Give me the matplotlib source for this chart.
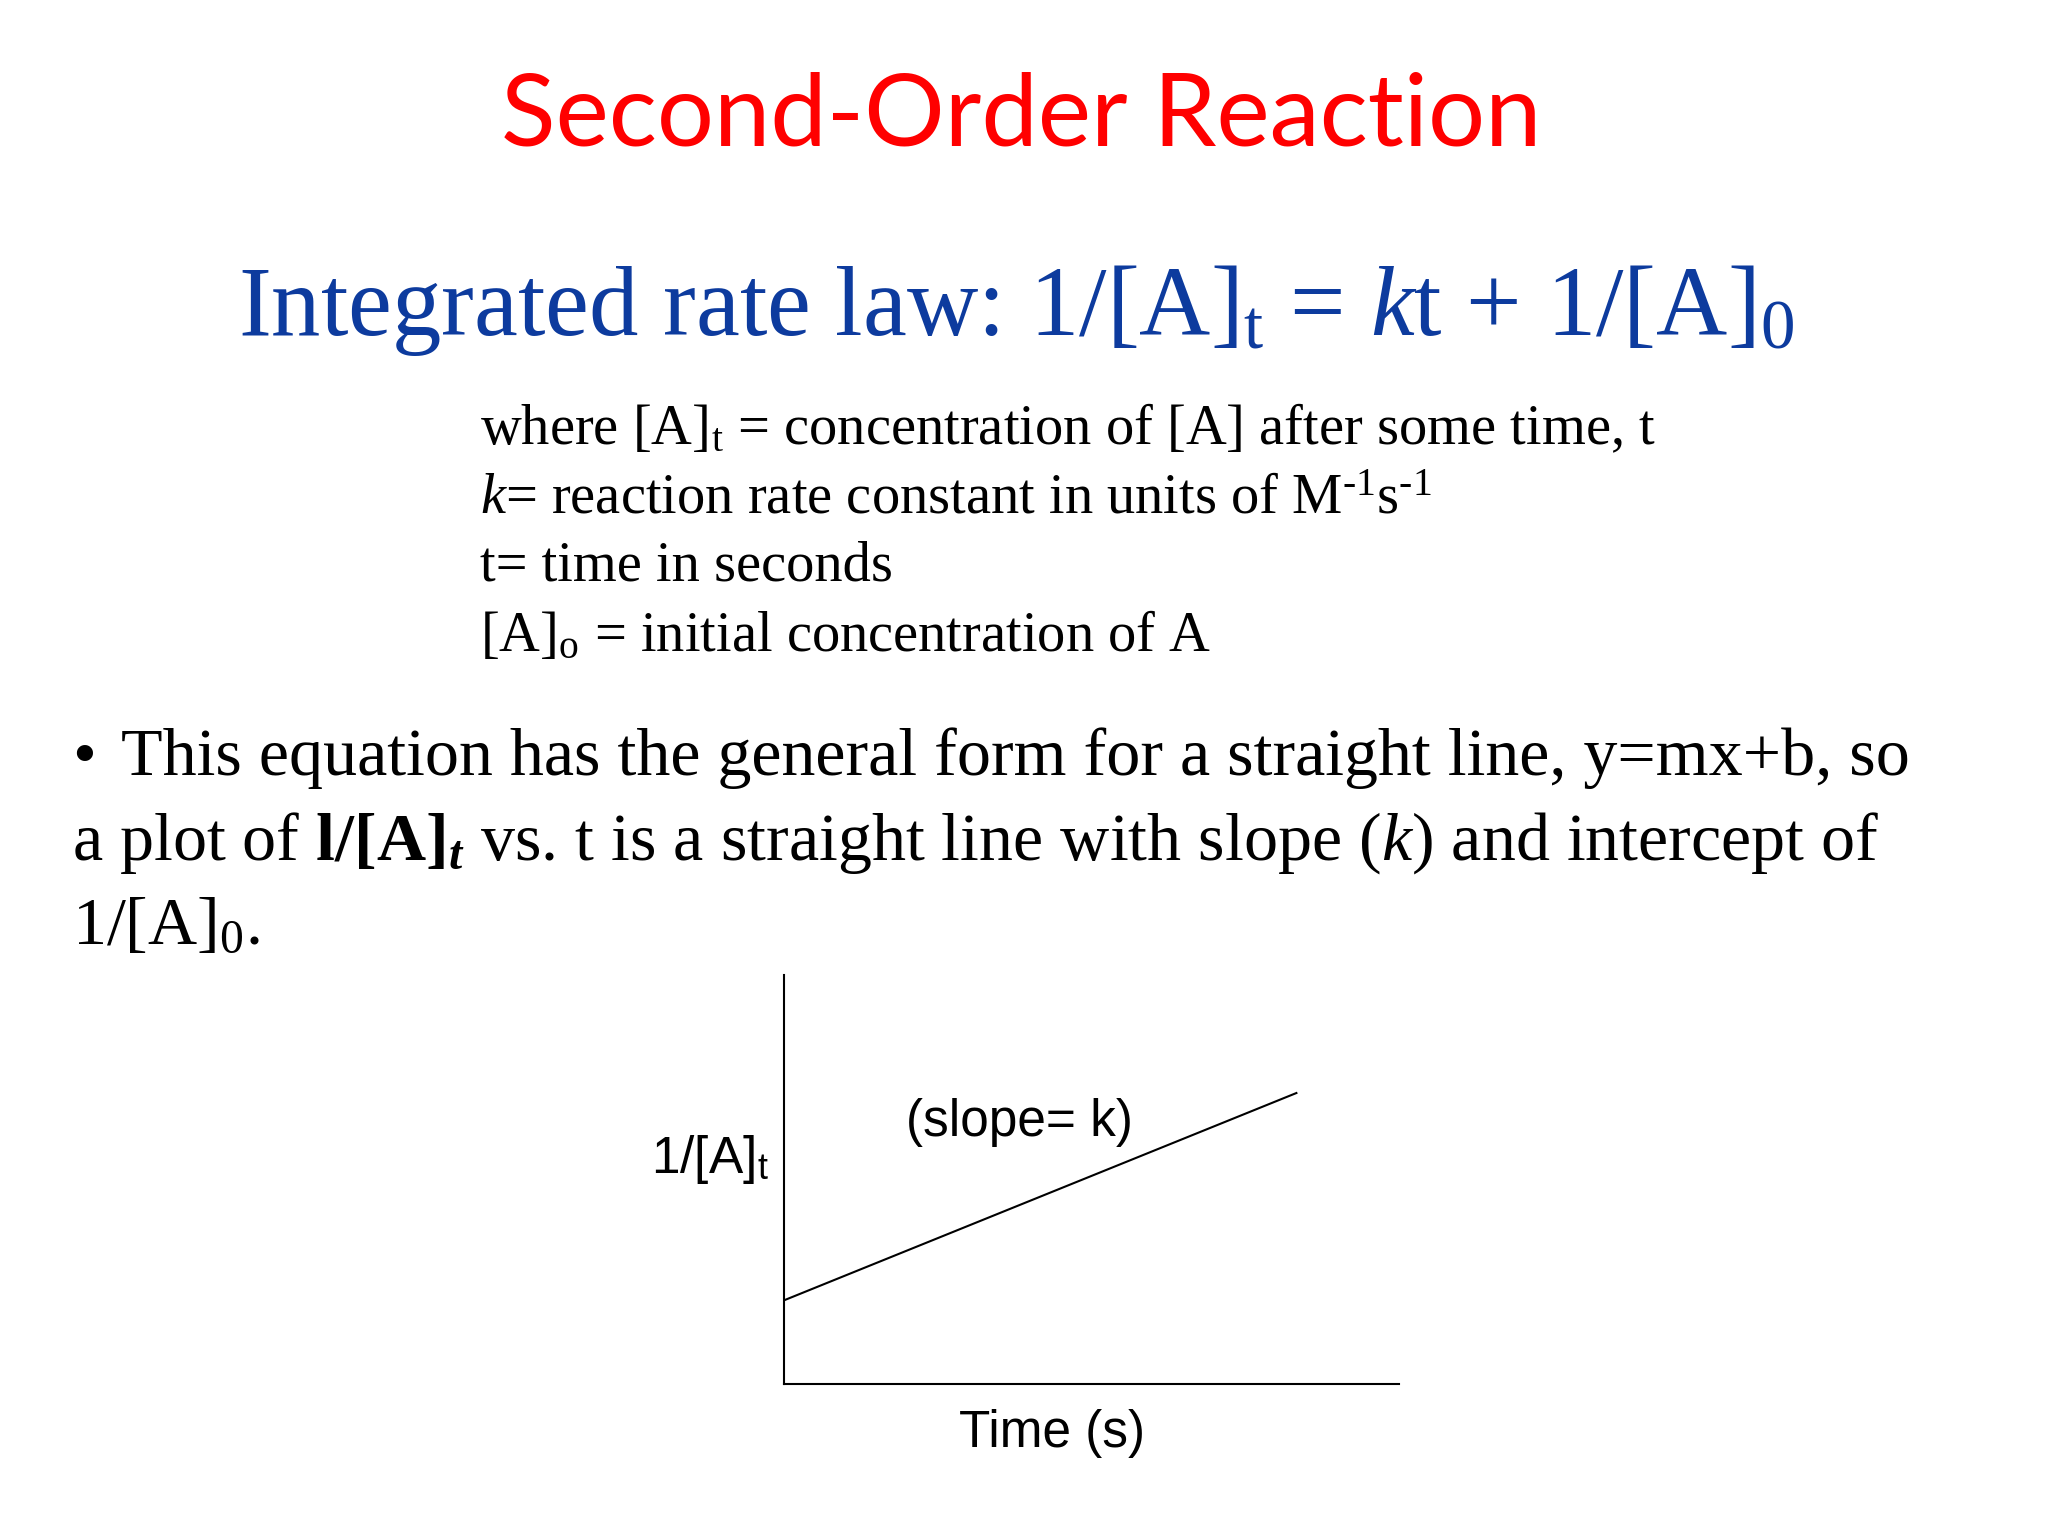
import matplotlib
matplotlib.use("Agg")
import matplotlib.pyplot as plt

plt.rcParams['mathtext.fontset'] = 'custom'
plt.rcParams['mathtext.rm'] = 'Liberation Serif'
plt.rcParams['mathtext.it'] = 'Liberation Serif:italic'
plt.rcParams['mathtext.bf'] = 'Liberation Serif:bold'
plt.rcParams['mathtext.bfit'] = 'Liberation Serif:bold:italic'
plt.rcParams['mathtext.sf'] = 'Liberation Sans'

# slide text
title = "Second-Order Reaction"
rate_law = r"Integrated rate law: 1/[A]$_\mathrm{t}$ = $k$t + 1/[A]$_\mathrm{0}$"
definitions = [
    r"where [A]$_\mathrm{t}$ = concentration of [A] after some time, t",
    r"$k$= reaction rate constant in units of M$^{\text{-1}}$s$^{\text{-1}}$",
    "t= time in seconds",
    r"[A]$_\mathrm{o}$ = initial concentration of A",
]
bullet_lines = [
    "This equation has the general form for a straight line, y=mx+b, so",
    r"a plot of $\mathbf{l/[A]}_{\mathbfit{t}}$ vs. t is a straight line with slope ($k$) and intercept of",
    r"1/[A]$_\mathrm{0}$.",
]

# sketch data: 1/[A]t against time
time = [0, 10]
inv_conc = [2.05, 7.12]

fig = plt.figure(figsize=(20.48, 15.36), dpi=100)
fig.patch.set_facecolor('white')

fig.text(0.4985, 0.905, title, ha='center', va='baseline',
         fontsize=72.5, color='#FF0000', family='Lato')
fig.text(0.116, 0.782, rate_law, ha='left', va='baseline',
         fontsize=71, color='#0D3B9E', family='Liberation Serif')

def_y = [0.711, 0.666, 0.622, 0.576]
for line, y in zip(definitions, def_y):
    fig.text(0.2346, y, line, ha='left', va='baseline',
             fontsize=40.7, color='black', family='Liberation Serif')

bul_y = [0.4955, 0.4405, 0.3855]
fig.text(0.0354, bul_y[0], "\u2022", ha='left', va='baseline',
         fontsize=49, family='Liberation Serif')
fig.text(0.059, bul_y[0], bullet_lines[0], ha='left', va='baseline',
         fontsize=49, family='Liberation Serif')
for line, y in zip(bullet_lines[1:], bul_y[1:]):
    fig.text(0.0354, y, line, ha='left', va='baseline',
             fontsize=49, family='Liberation Serif')

# the little plot
ax = fig.add_axes([0.383, 0.099, 0.300, 0.266])
ax.plot(time, inv_conc, color='black', lw=1.5)
ax.set_xlim(0, 12)
ax.set_ylim(0, 10)
ax.spines['top'].set_visible(False)
ax.spines['right'].set_visible(False)
ax.spines['left'].set_linewidth(1.5)
ax.spines['bottom'].set_linewidth(1.5)
ax.set_xticks([])
ax.set_yticks([])

ax.set_ylabel(r"1/[A]$_\mathsf{t}$", rotation=0, ha='right', va='center',
              fontsize=37, family='Liberation Sans')
ax.yaxis.set_label_coords(-0.026, 0.55)
ax.set_xlabel("Time (s)", fontsize=37, family='Liberation Sans')
ax.xaxis.set_label_coords(0.436, -0.122)
ax.xaxis.label.set_va('center')
ax.text(0.383, 0.641, "(slope= k)", transform=ax.transAxes, ha='center',
        va='center', fontsize=37, family='Liberation Sans')

fig.savefig("out.png", dpi=100, facecolor='white')
